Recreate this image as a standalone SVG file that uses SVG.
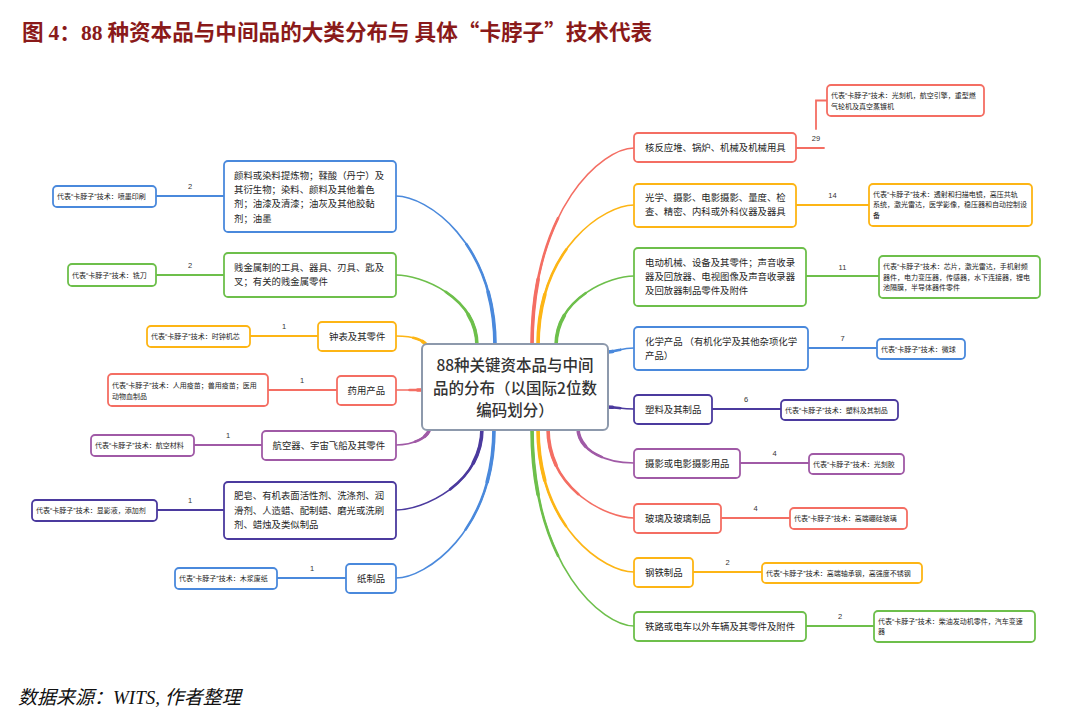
<svg xmlns="http://www.w3.org/2000/svg" width="1080" height="728" viewBox="0 0 1080 728">
<style>
.bg{fill:#fff}
.title{font-family:"Noto Sans CJK SC",sans-serif;font-size:21.6px;font-weight:bold;fill:#8a1a1a}
.serif{font-family:"Liberation Serif",serif}
.src{font-family:"Liberation Serif","Noto Sans CJK SC",serif;font-size:19px;font-style:italic;fill:#111}
.box{fill:#fff;stroke-width:1.8}
.leaf{fill:#fff;stroke-width:1.8}
.root{fill:#fff;stroke:#8d99ac;stroke-width:2}
.rt{font-family:"Noto Sans CJK SC",sans-serif;font-size:15.5px;font-weight:500;fill:#333;text-anchor:middle}
.bt{font-family:"Noto Sans CJK SC",sans-serif;font-size:9.4px;fill:#262626}
.lt{font-family:"Liberation Sans","Noto Sans CJK SC",sans-serif;font-size:7px;fill:#222}
.num{font-family:"Liberation Sans",sans-serif;font-size:7.5px;fill:#333;stroke:none;text-anchor:middle}
.t1{stroke-width:1.6}
.t2{stroke-width:2.6;stroke-dasharray:55 200}
.t3{stroke-width:3.6;stroke-dasharray:28 200}
.lk{stroke-width:1.8}
.blue{stroke:#4a89dc}
.green{stroke:#6dbf4b}
.orange{stroke:#fdb515}
.red{stroke:#f46e63}
.purple{stroke:#a05aa6}
.indigo{stroke:#4b3a9e}
</style>
<defs>
<path id="pL1" pathLength="100" d="M495,346 C495,241 426,196 396,196"/>
<path id="pL2" pathLength="100" d="M477,346 C477,296 420,275 396,275"/>
<path id="pL3" pathLength="100" d="M428,350 C428,340 412,336 396,336"/>
<path id="pL4" pathLength="100" d="M426,390 C416,390 406,390 396,390"/>
<path id="pL5" pathLength="100" d="M430,426 C430,438 412,445 396,445"/>
<path id="pL6" pathLength="100" d="M482,428 C482,485 422,510 396,510"/>
<path id="pL7" pathLength="100" d="M494,428 C494,533 425,578 396,578"/>
<path id="pR1" pathLength="100" d="M532,346 C532,207 603,148 634,148"/>
<path id="pR2" pathLength="100" d="M538,346 C538,247 605,205 634,205"/>
<path id="pR3" pathLength="100" d="M556,346 C556,297 611,276 634,276"/>
<path id="pR4" pathLength="100" d="M604,352 C619,352 619,348 634,348"/>
<path id="pR5" pathLength="100" d="M604,407 C619,407 619,409 634,409"/>
<path id="pR6" pathLength="100" d="M578,428 C578,450 605,463 634,463"/>
<path id="pR7" pathLength="100" d="M548,428 C548,491 608,518 634,518"/>
<path id="pR8" pathLength="100" d="M538,428 C538,529 605,572 634,572"/>
<path id="pR9" pathLength="100" d="M532,428 C532,567 603,626 634,626"/>
</defs>
<rect class="bg" x="0" y="0" width="1080" height="728"/>
<text class="title" x="22" y="40">图 <tspan class="serif">4</tspan>：<tspan class="serif">88</tspan> 种资本品与中间品的大类分布与 具体“卡脖子”技术代表</text>

<g id="connectors" fill="none" stroke-linecap="round">
  <g class="blue"><use href="#pL1" class="t1"/><use href="#pL1" class="t2"/><use href="#pL1" class="t3"/><path class="lk" d="M156,196 H224"/><text class="num" x="190" y="189">2</text></g>
  <g class="green"><use href="#pL2" class="t1"/><use href="#pL2" class="t2"/><use href="#pL2" class="t3"/><path class="lk" d="M156,275 H224"/><text class="num" x="190" y="268">2</text></g>
  <g class="orange"><use href="#pL3" class="t1"/><use href="#pL3" class="t2"/><use href="#pL3" class="t3"/><path class="lk" d="M250,336 H318"/><text class="num" x="284" y="329">1</text></g>
  <g class="red"><use href="#pL4" class="t1"/><use href="#pL4" class="t2"/><use href="#pL4" class="t3"/><path class="lk" d="M268,390 H337"/><text class="num" x="302" y="383">1</text></g>
  <g class="purple"><use href="#pL5" class="t1"/><use href="#pL5" class="t2"/><use href="#pL5" class="t3"/><path class="lk" d="M194,445 H262"/><text class="num" x="228" y="438">1</text></g>
  <g class="indigo"><use href="#pL6" class="t1"/><use href="#pL6" class="t2"/><use href="#pL6" class="t3"/><path class="lk" d="M157,510 H224"/><text class="num" x="190" y="503">1</text></g>
  <g class="blue"><use href="#pL7" class="t1"/><use href="#pL7" class="t2"/><use href="#pL7" class="t3"/><path class="lk" d="M277,578 H346"/><text class="num" x="312" y="571">1</text></g>
  <g class="red"><use href="#pR1" class="t1"/><use href="#pR1" class="t2"/><use href="#pR1" class="t3"/><path class="lk" d="M796,148 H824 M816,129 V100.5 H827"/><text class="num" x="816" y="141">29</text></g>
  <g class="orange"><use href="#pR2" class="t1"/><use href="#pR2" class="t2"/><use href="#pR2" class="t3"/><path class="lk" d="M796,205 H869"/><text class="num" x="832.5" y="198">14</text></g>
  <g class="green"><use href="#pR3" class="t1"/><use href="#pR3" class="t2"/><use href="#pR3" class="t3"/><path class="lk" d="M806,276 H879"/><text class="num" x="842.5" y="270">11</text></g>
  <g class="blue"><use href="#pR4" class="t1"/><use href="#pR4" class="t2"/><use href="#pR4" class="t3"/><path class="lk" d="M808,348 H877"/><text class="num" x="842.5" y="341">7</text></g>
  <g class="indigo"><use href="#pR5" class="t1"/><use href="#pR5" class="t2"/><use href="#pR5" class="t3"/><path class="lk" d="M712,409 H781"/><text class="num" x="746" y="402">6</text></g>
  <g class="purple"><use href="#pR6" class="t1"/><use href="#pR6" class="t2"/><use href="#pR6" class="t3"/><path class="lk" d="M740,463 H809"/><text class="num" x="774.5" y="456">4</text></g>
  <g class="red"><use href="#pR7" class="t1"/><use href="#pR7" class="t2"/><use href="#pR7" class="t3"/><path class="lk" d="M721,518 H790"/><text class="num" x="755.5" y="511">4</text></g>
  <g class="orange"><use href="#pR8" class="t1"/><use href="#pR8" class="t2"/><use href="#pR8" class="t3"/><path class="lk" d="M693,572 H762"/><text class="num" x="727.5" y="565">2</text></g>
  <g class="green"><use href="#pR9" class="t1"/><use href="#pR9" class="t2"/><use href="#pR9" class="t3"/><path class="lk" d="M806,626 H874"/><text class="num" x="840" y="619">2</text></g>
</g>

<g id="root">
  <rect class="root" x="422" y="344" width="186" height="86" rx="5"/>
  <text class="rt" x="515" y="370.5">88种关键资本品与中间</text>
  <text class="rt" x="515" y="393.5">品的分布（以国际2位数</text>
  <text class="rt" x="515" y="415.5">编码划分）</text>
</g>

<g id="node-L1"><rect class="box blue" x="224" y="161" width="172" height="71" rx="4"/>
  <text class="bt" x="234" y="178.6">颜料或染料提炼物；鞣酸（丹宁）及</text>
  <text class="bt" x="234" y="192.9">其衍生物；染料、颜料及其他着色</text>
  <text class="bt" x="234" y="207.2">剂；油漆及清漆；油灰及其他胶黏</text>
  <text class="bt" x="234" y="221.5">剂；油墨</text></g>
<g id="leaf-L1"><rect class="leaf blue" x="53" y="186" width="103" height="21" rx="4"/><text class="lt" x="57" y="199">代表“卡脖子”技术：喷墨印刷</text></g>

<g id="node-L2"><rect class="box green" x="224" y="253" width="172" height="44" rx="4"/>
  <text class="bt" x="234" y="271.4">贱金属制的工具、器具、刃具、匙及</text>
  <text class="bt" x="234" y="285.4">叉；有关的贱金属零件</text></g>
<g id="leaf-L2"><rect class="leaf green" x="68" y="264" width="88" height="22" rx="4"/><text class="lt" x="72" y="277.5">代表“卡脖子”技术：铣刀</text></g>

<g id="node-L3"><rect class="box orange" x="318" y="322" width="78" height="29" rx="4"/>
  <text class="bt" x="329" y="340">钟表及其零件</text></g>
<g id="leaf-L3"><rect class="leaf orange" x="147" y="326" width="103" height="21" rx="4"/><text class="lt" x="151" y="339">代表“卡脖子”技术：时钟机芯</text></g>

<g id="node-L4"><rect class="box red" x="337" y="376" width="59" height="29" rx="4"/>
  <text class="bt" x="347.5" y="394">药用产品</text></g>
<g id="leaf-L4"><rect class="leaf red" x="108" y="374" width="160" height="32" rx="4"/>
  <text class="lt" x="112" y="387.5">代表“卡脖子”技术：人用疫苗；兽用疫苗；医用</text>
  <text class="lt" x="112" y="398.5">动物血制品</text></g>

<g id="node-L5"><rect class="box purple" x="262" y="431" width="134" height="29" rx="4"/>
  <text class="bt" x="272.5" y="449">航空器、宇宙飞船及其零件</text></g>
<g id="leaf-L5"><rect class="leaf purple" x="91" y="435" width="103" height="21" rx="4"/><text class="lt" x="95" y="448">代表“卡脖子”技术：航空材料</text></g>

<g id="node-L6"><rect class="box indigo" x="224" y="482" width="172" height="57" rx="4"/>
  <text class="bt" x="234" y="499.4">肥皂、有机表面活性剂、洗涤剂、润</text>
  <text class="bt" x="234" y="513.7">滑剂、人造蜡、配制蜡、磨光或洗刷</text>
  <text class="bt" x="234" y="528">剂、蜡烛及类似制品</text></g>
<g id="leaf-L6"><rect class="leaf indigo" x="32" y="500" width="125" height="21" rx="4"/><text class="lt" x="36" y="513">代表“卡脖子”技术：显影液，添加剂</text></g>

<g id="node-L7"><rect class="box blue" x="346" y="564" width="50" height="29" rx="4"/>
  <text class="bt" x="357" y="582">纸制品</text></g>
<g id="leaf-L7"><rect class="leaf blue" x="175" y="568" width="102" height="21" rx="4"/><text class="lt" x="179" y="581">代表“卡脖子”技术：木浆废纸</text></g>

<g id="node-R1"><rect class="box red" x="634" y="133" width="162" height="29" rx="4"/>
  <text class="bt" x="645" y="151">核反应堆、锅炉、机械及机械用具</text></g>
<g id="leaf-R1"><rect class="leaf red" x="827" y="85" width="157" height="31" rx="4"/>
  <text class="lt" x="831" y="98">代表“卡脖子”技术：光刻机，航空引擎，重型燃</text>
  <text class="lt" x="831" y="108.5">气轮机及真空蒸镀机</text></g>

<g id="node-R2"><rect class="box orange" x="634" y="184" width="162" height="43" rx="4"/>
  <text class="bt" x="645" y="201.4">光学、摄影、电影摄影、量度、检</text>
  <text class="bt" x="645" y="215.4">查、精密、内科或外科仪器及器具</text></g>
<g id="leaf-R2"><rect class="leaf orange" x="869" y="184" width="163" height="42" rx="4"/>
  <text class="lt" x="873" y="196.5">代表“卡脖子”技术：透射和扫描电镜，高压共轨</text>
  <text class="lt" x="873" y="207">系统，激光雷达，医学影像，稳压器和自动控制设</text>
  <text class="lt" x="873" y="217.5">备</text></g>

<g id="node-R3"><rect class="box green" x="634" y="248" width="172" height="58" rx="4"/>
  <text class="bt" x="645" y="266.4">电动机械、设备及其零件；声音收录</text>
  <text class="bt" x="645" y="280.4">器及回放器、电视图像及声音收录器</text>
  <text class="bt" x="645" y="294.4">及回放器制品零件及附件</text></g>
<g id="leaf-R3"><rect class="leaf green" x="879" y="256" width="161" height="42" rx="4"/>
  <text class="lt" x="883" y="269">代表“卡脖子”技术：芯片，激光雷达，手机射频</text>
  <text class="lt" x="883" y="279.5">器件，电力变压器，传感器，水下连接器，锂电</text>
  <text class="lt" x="883" y="290">池隔膜，半导体器件零件</text></g>

<g id="node-R4"><rect class="box blue" x="634" y="327" width="174" height="43" rx="4"/>
  <text class="bt" x="645" y="345.4">化学产品 （有机化学及其他杂项化学</text>
  <text class="bt" x="645" y="359.4">产品）</text></g>
<g id="leaf-R4"><rect class="leaf blue" x="877" y="339" width="88" height="20" rx="4"/><text class="lt" x="881" y="351.5">代表“卡脖子”技术：微球</text></g>

<g id="node-R5"><rect class="box indigo" x="634" y="395" width="78" height="29" rx="4"/>
  <text class="bt" x="645" y="413">塑料及其制品</text></g>
<g id="leaf-R5"><rect class="leaf indigo" x="781" y="400" width="117" height="20" rx="4"/><text class="lt" x="785" y="412.5">代表“卡脖子”技术：塑料及其制品</text></g>

<g id="node-R6"><rect class="box purple" x="634" y="449" width="106" height="29" rx="4"/>
  <text class="bt" x="645" y="467">摄影或电影摄影用品</text></g>
<g id="leaf-R6"><rect class="leaf purple" x="809" y="454" width="95" height="20" rx="4"/><text class="lt" x="813" y="466.5">代表“卡脖子”技术：光刻胶</text></g>

<g id="node-R7"><rect class="box red" x="634" y="504" width="87" height="29" rx="4"/>
  <text class="bt" x="645" y="522">玻璃及玻璃制品</text></g>
<g id="leaf-R7"><rect class="leaf red" x="790" y="508" width="117" height="21" rx="4"/><text class="lt" x="794" y="521">代表“卡脖子”技术：高端硼硅玻璃</text></g>

<g id="node-R8"><rect class="box orange" x="634" y="558" width="59" height="29" rx="4"/>
  <text class="bt" x="645" y="576">钢铁制品</text></g>
<g id="leaf-R8"><rect class="leaf orange" x="762" y="563" width="160" height="20" rx="4"/><text class="lt" x="766" y="575.5">代表“卡脖子”技术：高端轴承钢，高强度不锈钢</text></g>

<g id="node-R9"><rect class="box green" x="634" y="612" width="172" height="29" rx="4"/>
  <text class="bt" x="645" y="630">铁路或电车以外车辆及其零件及附件</text></g>
<g id="leaf-R9"><rect class="leaf green" x="874" y="611" width="161" height="31" rx="4"/>
  <text class="lt" x="878" y="623.5">代表“卡脖子”技术：柴油发动机零件，汽车变速</text>
  <text class="lt" x="878" y="634">器</text></g>

<text class="src" x="18" y="704">数据来源：WITS, 作者整理</text>
</svg>
